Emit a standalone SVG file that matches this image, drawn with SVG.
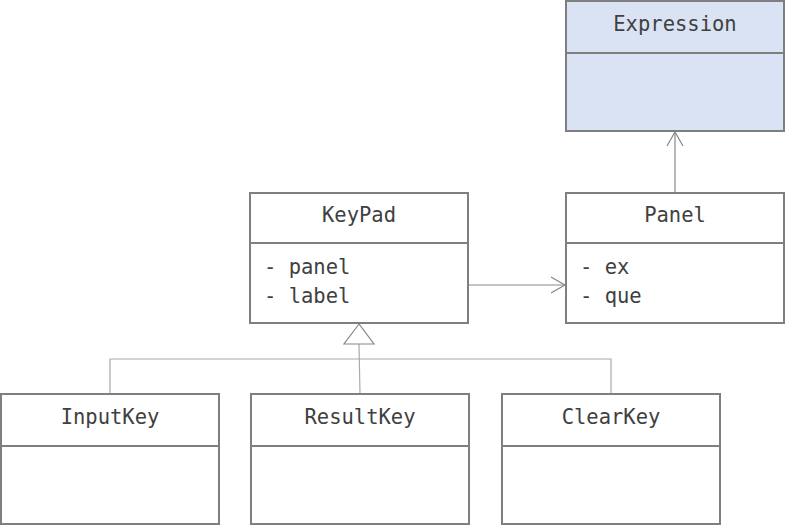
<svg xmlns="http://www.w3.org/2000/svg" width="785" height="526" viewBox="0 0 785 526">
<defs>
<style>
.box{fill:#ffffff;stroke:#7f7f7f;stroke-width:2}
.blue{fill:#dae3f3}
.div{stroke:#7f7f7f;stroke-width:2}
.t{font-family:"DejaVu Sans Mono","Liberation Mono",monospace;font-size:20.5px;fill:#404040}
.c{text-anchor:middle}
.ln{fill:none;stroke:#888888;stroke-width:1.2}
.inh{fill:none;stroke:#aaaaaa;stroke-width:1.2}
</style>
<marker id="open" viewBox="0 0 20 20" refX="14" refY="10" markerWidth="20" markerHeight="20" markerUnits="userSpaceOnUse" orient="auto">
<path d="M0,2 L14,10 L0,18" fill="none" stroke="#888888" stroke-width="1.2"/>
</marker>
</defs>
<g id="connectors">
<line class="ln" x1="675" y1="193" x2="675" y2="132" marker-end="url(#open)"/>
<line class="ln" x1="469" y1="285" x2="565" y2="285" marker-end="url(#open)"/>
<polyline class="inh" points="110,394 110,359 611,359 611,394"/>
<line class="inh" x1="359" y1="344" x2="360" y2="394"/>
<polygon points="359,324 344,344 374,344" fill="#ffffff" stroke="#888888" stroke-width="1.2"/>
</g>
<g id="Expression">
<rect class="box blue" x="566" y="1" width="218" height="130"/>
<line class="div" x1="566" y1="53" x2="784" y2="53"/>
<text class="t c" x="675" y="31">Expression</text>
</g>
<g id="KeyPad">
<rect class="box" x="250" y="193" width="218" height="130"/>
<line class="div" x1="250" y1="243" x2="468" y2="243"/>
<text class="t c" x="359" y="222">KeyPad</text>
<text class="t" x="264" y="274">- panel</text>
<text class="t" x="264" y="303">- label</text>
</g>
<g id="Panel">
<rect class="box" x="566" y="193" width="218" height="130"/>
<line class="div" x1="566" y1="243" x2="784" y2="243"/>
<text class="t c" x="675" y="222">Panel</text>
<text class="t" x="580" y="274">- ex</text>
<text class="t" x="580" y="303">- que</text>
</g>
<g id="InputKey">
<rect class="box" x="1" y="394" width="218" height="130"/>
<line class="div" x1="1" y1="446" x2="219" y2="446"/>
<text class="t c" x="110" y="424">InputKey</text>
</g>
<g id="ResultKey">
<rect class="box" x="251" y="394" width="218" height="130"/>
<line class="div" x1="251" y1="446" x2="469" y2="446"/>
<text class="t c" x="360" y="424">ResultKey</text>
</g>
<g id="ClearKey">
<rect class="box" x="502" y="394" width="218" height="130"/>
<line class="div" x1="502" y1="446" x2="720" y2="446"/>
<text class="t c" x="611" y="424">ClearKey</text>
</g>
</svg>
